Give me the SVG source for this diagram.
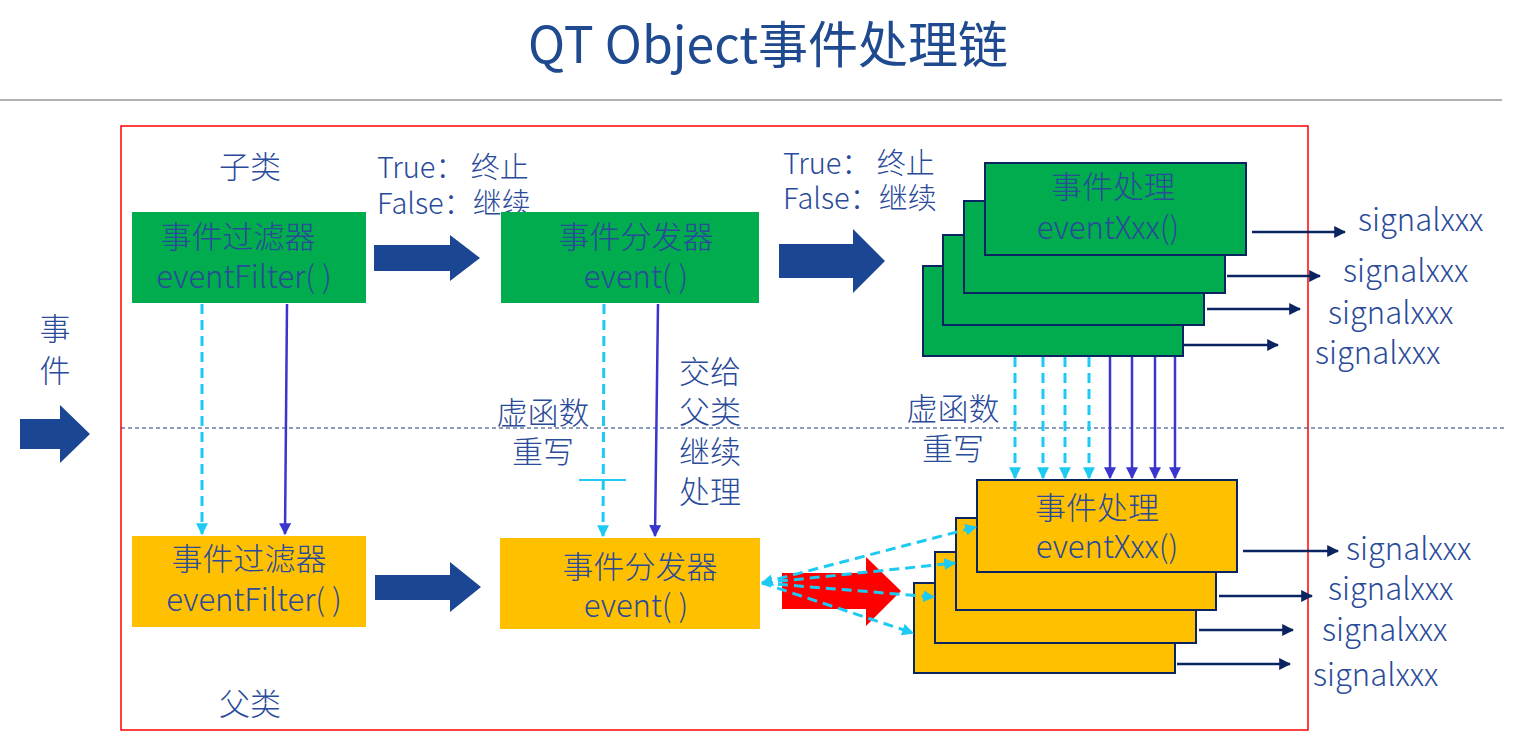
<svg xmlns="http://www.w3.org/2000/svg" width="1522" height="742" viewBox="0 0 1522 742">
<defs>
<style>
text{font-family:"Noto Sans CJK SC","Noto Sans",sans-serif;fill:#2a4a9a;font-weight:300}
.t{font-size:31px;text-anchor:middle}
.g{fill:#00ac4e;stroke:#0a2462;stroke-width:2}
.y{fill:#ffc000;stroke:#0a2462;stroke-width:2}
.gb{fill:#00ac4e}
.yb{fill:#ffc000}
.ba{fill:#1a4693}
.cy{stroke:#1ccaf2;stroke-width:3;stroke-dasharray:10 6;fill:none}
.pu{stroke:#3a35cc;stroke-width:2.5;fill:none}
.nv{stroke:#0a2462;stroke-width:2.5;fill:none}
.s{font-size:29px}
.sg{font-size:31px}
</style>
<marker id="mc" markerWidth="12" markerHeight="12" refX="9" refY="5" orient="auto" markerUnits="userSpaceOnUse" viewBox="0 0 10 10"><path d="M0,0L10,5L0,10Z" fill="#1ccaf2"/></marker>
<marker id="mcs" markerWidth="12" markerHeight="12" refX="1" refY="5" orient="auto" markerUnits="userSpaceOnUse" viewBox="0 0 10 10"><path d="M10,0L0,5L10,10Z" fill="#1ccaf2"/></marker>
<marker id="mp" markerWidth="12" markerHeight="12" refX="9" refY="5" orient="auto" markerUnits="userSpaceOnUse" viewBox="0 0 10 10"><path d="M0,0L10,5L0,10Z" fill="#3a35cc"/></marker>
<marker id="mn" markerWidth="12" markerHeight="12" refX="9" refY="5" orient="auto" markerUnits="userSpaceOnUse" viewBox="0 0 10 10"><path d="M0,0L10,5L0,10Z" fill="#0a2462"/></marker>
</defs>
<rect width="1522" height="742" fill="#fff"/>
<text x="768" y="63" style="font-size:50px;text-anchor:middle;font-weight:400;fill:#1f4a8f">QT Object事件处理链</text>
<line x1="0" y1="100" x2="1502" y2="100" stroke="#999" stroke-width="1.5"/>
<rect x="121" y="126" width="1187" height="604" fill="none" stroke="#ff0000" stroke-width="1.5"/>
<line x1="121" y1="428" x2="1505" y2="428" stroke="#1a3a7a" stroke-width="1.2" stroke-dasharray="4 3"/>

<g id="labels">
<text class="t" x="250" y="178">子类</text>
<text class="t" x="250" y="715">父类</text>
<text class="s" x="377" y="178">True：  终止</text>
<text class="s" x="377" y="214">False：继续</text>
<text class="s" x="783" y="174">True：  终止</text>
<text class="s" x="783" y="209">False：继续</text>
<text class="t" x="55" y="340">事</text>
<text class="t" x="55" y="382">件</text>
<text class="t" x="543" y="424">虚函数</text>
<text class="t" x="543" y="463">重写</text>
<text class="t" x="710" y="383">交给</text>
<text class="t" x="710" y="423">父类</text>
<text class="t" x="710" y="463">继续</text>
<text class="t" x="710" y="503">处理</text>
<text class="t" x="953" y="420">虚函数</text>
<text class="t" x="953" y="460">重写</text>
<text class="sg" x="1358" y="231">signalxxx</text>
<text class="sg" x="1343" y="282">signalxxx</text>
<text class="sg" x="1328" y="324">signalxxx</text>
<text class="sg" x="1315" y="364">signalxxx</text>
<text class="sg" x="1346" y="560">signalxxx</text>
<text class="sg" x="1328" y="600">signalxxx</text>
<text class="sg" x="1322" y="641">signalxxx</text>
<text class="sg" x="1313" y="686">signalxxx</text>
</g>

<g id="bigarrows">
<path class="ba" d="M20,419H60V405L90,434L60,463V449H20Z"/>
<path class="ba" d="M374,245H450V235L480,258L450,281V271H374Z"/>
<path class="ba" d="M779,244H853V229L885,261L853,293V278H779Z"/>
<path class="ba" d="M375,575H450V562L481,587L450,612V600H375Z"/>
<path d="M782,573H866V557L901,591L866,626V609H782Z" fill="#ff0000"/>
</g>

<g id="filterChild"><rect class="gb" x="132" y="212" width="234" height="91"/><text class="t" x="238" y="248">事件过滤器</text><text class="t" x="244" y="288">eventFilter( )</text></g>
<g id="eventChild"><rect class="gb" x="501" y="212" width="258" height="91"/><text class="t" x="636" y="248">事件分发器</text><text class="t" x="636" y="288">event( )</text></g>
<g id="filterParent"><rect class="yb" x="132" y="536" width="234" height="91"/><text class="t" x="249" y="570">事件过滤器</text><text class="t" x="254" y="611">eventFilter( )</text></g>
<g id="eventParent"><rect class="yb" x="500" y="538" width="260" height="91"/><text class="t" x="640" y="578">事件分发器</text><text class="t" x="636" y="617">event( )</text></g>

<g id="handlersChild">
<rect class="g" x="923" y="266" width="260" height="90"/>
<rect class="g" x="943" y="235" width="261" height="90"/>
<rect class="g" x="964" y="201" width="261" height="92"/>
<rect class="g" x="985" y="163" width="261" height="92"/>
<text class="t" x="1113" y="198">事件处理</text><text class="t" x="1108" y="239">eventXxx()</text>
</g>
<g id="handlersParent">
<rect class="y" x="914" y="583" width="261" height="90"/>
<rect class="y" x="935" y="552" width="261" height="91"/>
<rect class="y" x="956" y="518" width="260" height="92"/>
<rect class="y" x="977" y="480" width="260" height="92"/>
<text class="t" x="1097" y="519">事件处理</text><text class="t" x="1107" y="558">eventXxx()</text>
</g>

<g id="connectors">
<line class="cy" x1="202" y1="304" x2="202" y2="534" marker-end="url(#mc)"/>
<line class="pu" x1="287" y1="304" x2="285" y2="534" marker-end="url(#mp)"/>
<line class="cy" x1="604" y1="304" x2="603" y2="536" marker-end="url(#mc)"/>
<line x1="579" y1="480" x2="626" y2="480" stroke="#1ccaf2" stroke-width="2"/>
<line class="pu" x1="658" y1="304" x2="655" y2="536" marker-end="url(#mp)"/>
<line class="cy" x1="1015" y1="357" x2="1015" y2="478" marker-end="url(#mc)"/>
<line class="cy" x1="1043" y1="357" x2="1043" y2="478" marker-end="url(#mc)"/>
<line class="cy" x1="1065" y1="357" x2="1065" y2="478" marker-end="url(#mc)"/>
<line class="cy" x1="1089" y1="357" x2="1089" y2="478" marker-end="url(#mc)"/>
<line class="pu" x1="1110" y1="357" x2="1110" y2="478" marker-end="url(#mp)"/>
<line class="pu" x1="1132" y1="357" x2="1132" y2="478" marker-end="url(#mp)"/>
<line class="pu" x1="1155" y1="357" x2="1155" y2="478" marker-end="url(#mp)"/>
<line class="pu" x1="1175" y1="357" x2="1175" y2="478" marker-end="url(#mp)"/>
<line class="cy" x1="762" y1="583" x2="976" y2="527" marker-start="url(#mcs)" marker-end="url(#mc)"/>
<line class="cy" x1="762" y1="583" x2="955" y2="563" marker-end="url(#mc)"/>
<line class="cy" x1="762" y1="583" x2="934" y2="597" marker-end="url(#mc)"/>
<line class="cy" x1="762" y1="583" x2="913" y2="633" marker-end="url(#mc)"/>
<line class="nv" x1="1252" y1="232" x2="1345" y2="232" marker-end="url(#mn)"/>
<line class="nv" x1="1227" y1="276" x2="1320" y2="276" marker-end="url(#mn)"/>
<line class="nv" x1="1207" y1="309" x2="1300" y2="309" marker-end="url(#mn)"/>
<line class="nv" x1="1183" y1="345" x2="1278" y2="345" marker-end="url(#mn)"/>
<line class="nv" x1="1243" y1="551" x2="1338" y2="551" marker-end="url(#mn)"/>
<line class="nv" x1="1219" y1="596" x2="1312" y2="596" marker-end="url(#mn)"/>
<line class="nv" x1="1199" y1="630" x2="1293" y2="630" marker-end="url(#mn)"/>
<line class="nv" x1="1177" y1="664" x2="1290" y2="664" marker-end="url(#mn)"/>
</g>
</svg>
